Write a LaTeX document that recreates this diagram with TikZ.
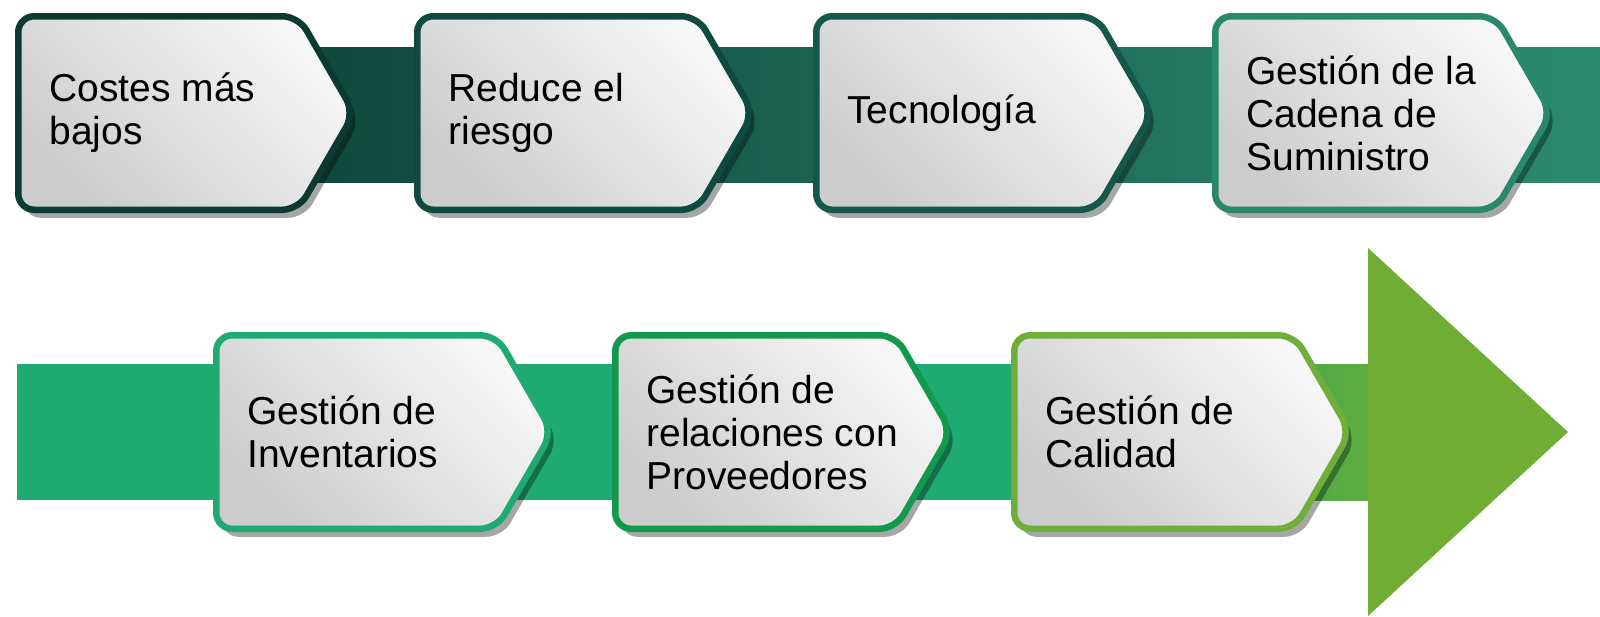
\documentclass[tikz,border=0pt]{standalone}
\usepackage{fontspec}
\setmainfont{Liberation Sans}
\usetikzlibrary{positioning, shapes.symbols, shadows}
\definecolor{topbandL}{HTML}{0C3E34}
\definecolor{topbandR}{HTML}{2B8A6E}
\definecolor{lowband}{HTML}{1FAA74}
\definecolor{lowbandR}{HTML}{5FAB3D}
\definecolor{headgreen}{HTML}{70AD35}
\definecolor{edgeA}{HTML}{0B3A31}
\definecolor{edgeB}{HTML}{0E4A40}
\definecolor{edgeC}{HTML}{15574A}
\definecolor{edgeD}{HTML}{2A876C}
\definecolor{edgeE}{HTML}{1FAA74}
\definecolor{edgeF}{HTML}{12994C}
\definecolor{edgeG}{HTML}{6DAF3A}
\tikzset{
  stepbox/.style={signal, signal to=east, signal from=nowhere, signal pointer angle=120,
    draw, line width=3.25pt, rounded corners=8pt, inner sep=0pt,
    minimum width=168pt, minimum height=96.75pt,
    top color=white!97!black, bottom color=white!80!black, shading angle=-45,
    drop shadow={shadow xshift=3pt, shadow yshift=-4pt, opacity=0.35, fill=black}},
  steptext/.style={align=left, inner sep=0pt, font=\fontsize{19.5pt}{21.5pt}\selectfont}
}

\begin{document}
\begin{tikzpicture}[x=0.5pt, y=-0.5pt, node distance=28pt]
    \useasboundingbox (0,0) rectangle (1600,616);
    % bands and arrow head
    \shade[left color=topbandL, right color=topbandR] (100,47) rectangle (1600,182);
    \fill[lowband] (17,364) rectangle (1130,500);
    \shade[left color=lowband, right color=lowbandR] (1129,364) rectangle (1369,500);
    \fill[headgreen] (1368,248) -- (1568,432) -- (1368,616) -- cycle;
    % top row
    \node[stepbox, draw=edgeA, anchor=west] (b1) at (15,113) {};
    \node[stepbox, draw=edgeB, right=of b1] (b2) {};
    \node[stepbox, draw=edgeC, right=of b2] (b3) {};
    \node[stepbox, draw=edgeD, right=of b3] (b4) {};
    % bottom row
    \node[stepbox, draw=edgeE, anchor=west] (b5) at (213,432) {};
    \node[stepbox, draw=edgeF, right=of b5] (b6) {};
    \node[stepbox, draw=edgeG, right=of b6] (b7) {};
    % labels
    \node[steptext, right=17pt of b1.west] (t1) {Costes más\\bajos};
    \node[steptext, right=17pt of b2.west] (t2) {Reduce el\\riesgo};
    \node[steptext, right=17pt of b3.west] (t3) {Tecnología};
    \node[steptext, right=17pt of b4.west] (t4) {Gestión de la\\Cadena de\\Suministro};
    \node[steptext, right=17pt of b5.west] (t5) {Gestión de\\Inventarios};
    \node[steptext, right=17pt of b6.west] (t6) {Gestión de\\relaciones con\\Proveedores};
    \node[steptext, right=17pt of b7.west] (t7) {Gestión de\\Calidad};
\end{tikzpicture}
\end{document}
